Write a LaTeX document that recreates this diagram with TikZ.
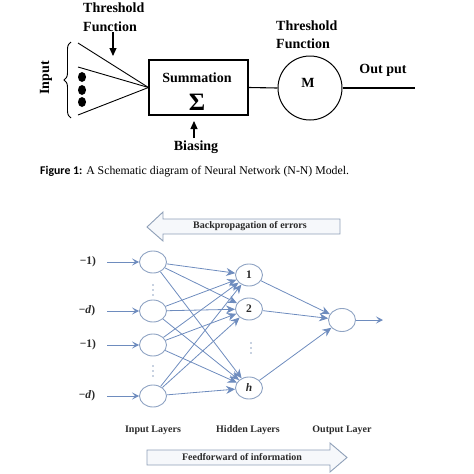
\documentclass[tikz,border=0pt]{standalone}
\usepackage{fontspec}
\setmainfont{Liberation Serif}
\newfontfamily\capsans{Carlito}
\usetikzlibrary{arrows.meta,decorations.pathreplacing,shapes.geometric,calc}
\definecolor{lineblue}{HTML}{6E8CBE}
\definecolor{nodeblue}{HTML}{8FA3C3}
\definecolor{bannerline}{HTML}{8FA0B8}
\definecolor{bannerfill}{HTML}{F6F8FB}
\definecolor{txtgray}{HTML}{2A2A2A}
\begin{document}
\begin{tikzpicture}[x=1pt,y=-1pt,
  toplbl/.style={font=\fontsize{14}{15}\selectfont\bfseries, inner sep=0pt},
  blk/.style={draw=black, line width=1.1pt},
  fan/.style={draw=black, line width=0.9pt},
  blkarrow/.style={draw=black, line width=1.1pt, -{Triangle[length=8pt,width=7pt]}},
  neuron/.style={ellipse, draw=nodeblue, line width=0.9pt, minimum width=27pt, minimum height=22pt, inner sep=0pt, font=\fontsize{11.5}{12}\selectfont\bfseries, text=txtgray},
  conn/.style={draw=lineblue, line width=0.8pt, -{Stealth[length=9pt,width=8pt]}},
  inarrow/.style={draw=lineblue, line width=1pt, -{Stealth[length=7pt,width=7pt,inset=3pt]}},
  banner/.style={draw=bannerline, fill=bannerfill, line width=0.9pt},
  bottxt/.style={font=\fontsize{10}{11}\selectfont\bfseries, text=txtgray, inner sep=0pt},
  inlbl/.style={font=\fontsize{11.5}{12}\selectfont\bfseries, text=txtgray, inner sep=0pt},
  dotf/.style={fill=nodeblue}
]
\useasboundingbox (0,0) rectangle (474,474);

% ---------------- Top schematic ----------------
\node[toplbl, anchor=base west] (tfa) at (83,12) {Threshold};
\node[toplbl, anchor=base west] (tfb) at (83,31) {Function};
\coordinate (tfs) at (113,32);
\coordinate (tfe) at (113,56);
\draw[blkarrow] (tfs) -- (tfe);

\node[toplbl, rotate=90] (inp) at (46,78) {Input};
\coordinate (brb) at (71,118);
\coordinate (brt) at (71,42);
\draw[line width=0.9pt, decorate, decoration={brace, amplitude=7pt}] (brb) -- (brt);

\node[draw=black, line width=1.1pt, minimum width=99pt, minimum height=55pt, inner sep=0pt] (sum) at (198.5,87.5) {};
\node[toplbl, anchor=base] (sumt) at (197,82) {Summation};
\node[font=\fontsize{25}{25}\selectfont\bfseries, anchor=base, inner sep=0pt] (sig) at (197,110) {Σ};

\coordinate (f1) at (78,43);
\coordinate (f2) at (78,67);
\coordinate (f3) at (78,115);
\draw[fan] (f1) -- (sum.west);
\draw[fan] (f2) -- (sum.west);
\draw[fan] (f3) -- (sum.west);
\fill[black] (82,77) ellipse (4pt and 5pt);
\fill[black] (82,90) ellipse (4pt and 5pt);
\fill[black] (82,102) ellipse (4pt and 5pt);

\coordinate (bis) at (194,138);
\coordinate (bie) at (194,121);
\draw[blkarrow] (bis) -- (bie);
\node[toplbl, anchor=base] (bias) at (196,150) {Biasing};

\node[circle, draw=black, line width=1pt, minimum size=64pt, inner sep=0pt] (thr) at (310,88) {};
\node[toplbl, anchor=base] (mm) at (308,87) {M};
\draw[blk] (sum.east) -- (thr.west);
\coordinate (outend) at (415,88);
\draw[blk] (thr.east) -- (outend);
\node[toplbl, anchor=base] (outp) at (383,73) {Out put};
\node[toplbl, anchor=base west] (tra) at (276,30) {Threshold};
\node[toplbl, anchor=base west] (trb) at (276,48) {Function};

\node[anchor=base west, inner sep=0pt] (cap) at (40,174) {\fontsize{11.8}{12}\selectfont{\capsans\bfseries Figure 1:} A Schematic diagram of Neural Network (N-N) Model.};

% ---------------- Bottom network ----------------
\draw[banner] (147,227) -- (163,212) -- (163,219) -- (340,219) -- (340,234) -- (163,234) -- (163,241) -- cycle;
\node[bottxt] (bp) at (250,226) {Backpropagation of errors};

\node[neuron] (i1) at (153,262) {};
\node[neuron] (i2) at (153,311) {};
\node[neuron] (i3) at (153,345) {};
\node[neuron] (i4) at (153,396) {};
\node[neuron] (h1) at (249,275) {1};
\node[neuron] (h2) at (249,309) {2};
\node[neuron] (hh) at (249,388) {\textit{h}};
\node[neuron, minimum height=23pt] (o) at (342,320) {};

\foreach \yy in {285,290,295}{\fill[dotf] (153,\yy) circle (0.9pt);}
\foreach \yy in {366,371,376}{\fill[dotf] (153,\yy) circle (0.9pt);}
\foreach \yy in {343,348,353}{\fill[dotf] (251,\yy) circle (0.9pt);}

\node[inlbl] (l1) at (88,262) {−1)};
\node[inlbl] (l2) at (87,311) {−\textit{d})};
\node[inlbl] (l3) at (88,345) {−1)};
\node[inlbl] (l4) at (87,396) {−\textit{d})};
\coordinate (a1) at (107,262);
\coordinate (a2) at (107,311);
\coordinate (a3) at (107,345);
\coordinate (a4) at (107,396);
\draw[inarrow] (a1) -- (i1.west);
\draw[inarrow] (a2) -- (i2.west);
\draw[inarrow] (a3) -- (i3.west);
\draw[inarrow] (a4) -- (i4.west);

\foreach \i in {i1,i2,i3,i4}{
  \foreach \h in {h1,h2,hh}{
    \draw[conn] (\i) -- (\h);
  }
}
\draw[conn] (h1) -- (o);
\draw[conn] (h2) -- (o);
\draw[conn] (hh) -- (o);
\coordinate (oe) at (383,320);
\draw[inarrow] (o.east) -- (oe);

\node[bottxt] (il) at (153,430) {Input Layers};
\node[bottxt] (hl) at (248,430) {Hidden Layers};
\node[bottxt] (ol) at (342,430) {Output Layer};

\draw[banner] (147,450) -- (330,450) -- (330,443) -- (347,457.5) -- (330,472) -- (330,465) -- (147,465) -- cycle;
\node[bottxt] (ff) at (242,457) {Feedforward of information};
\end{tikzpicture}
\end{document}
